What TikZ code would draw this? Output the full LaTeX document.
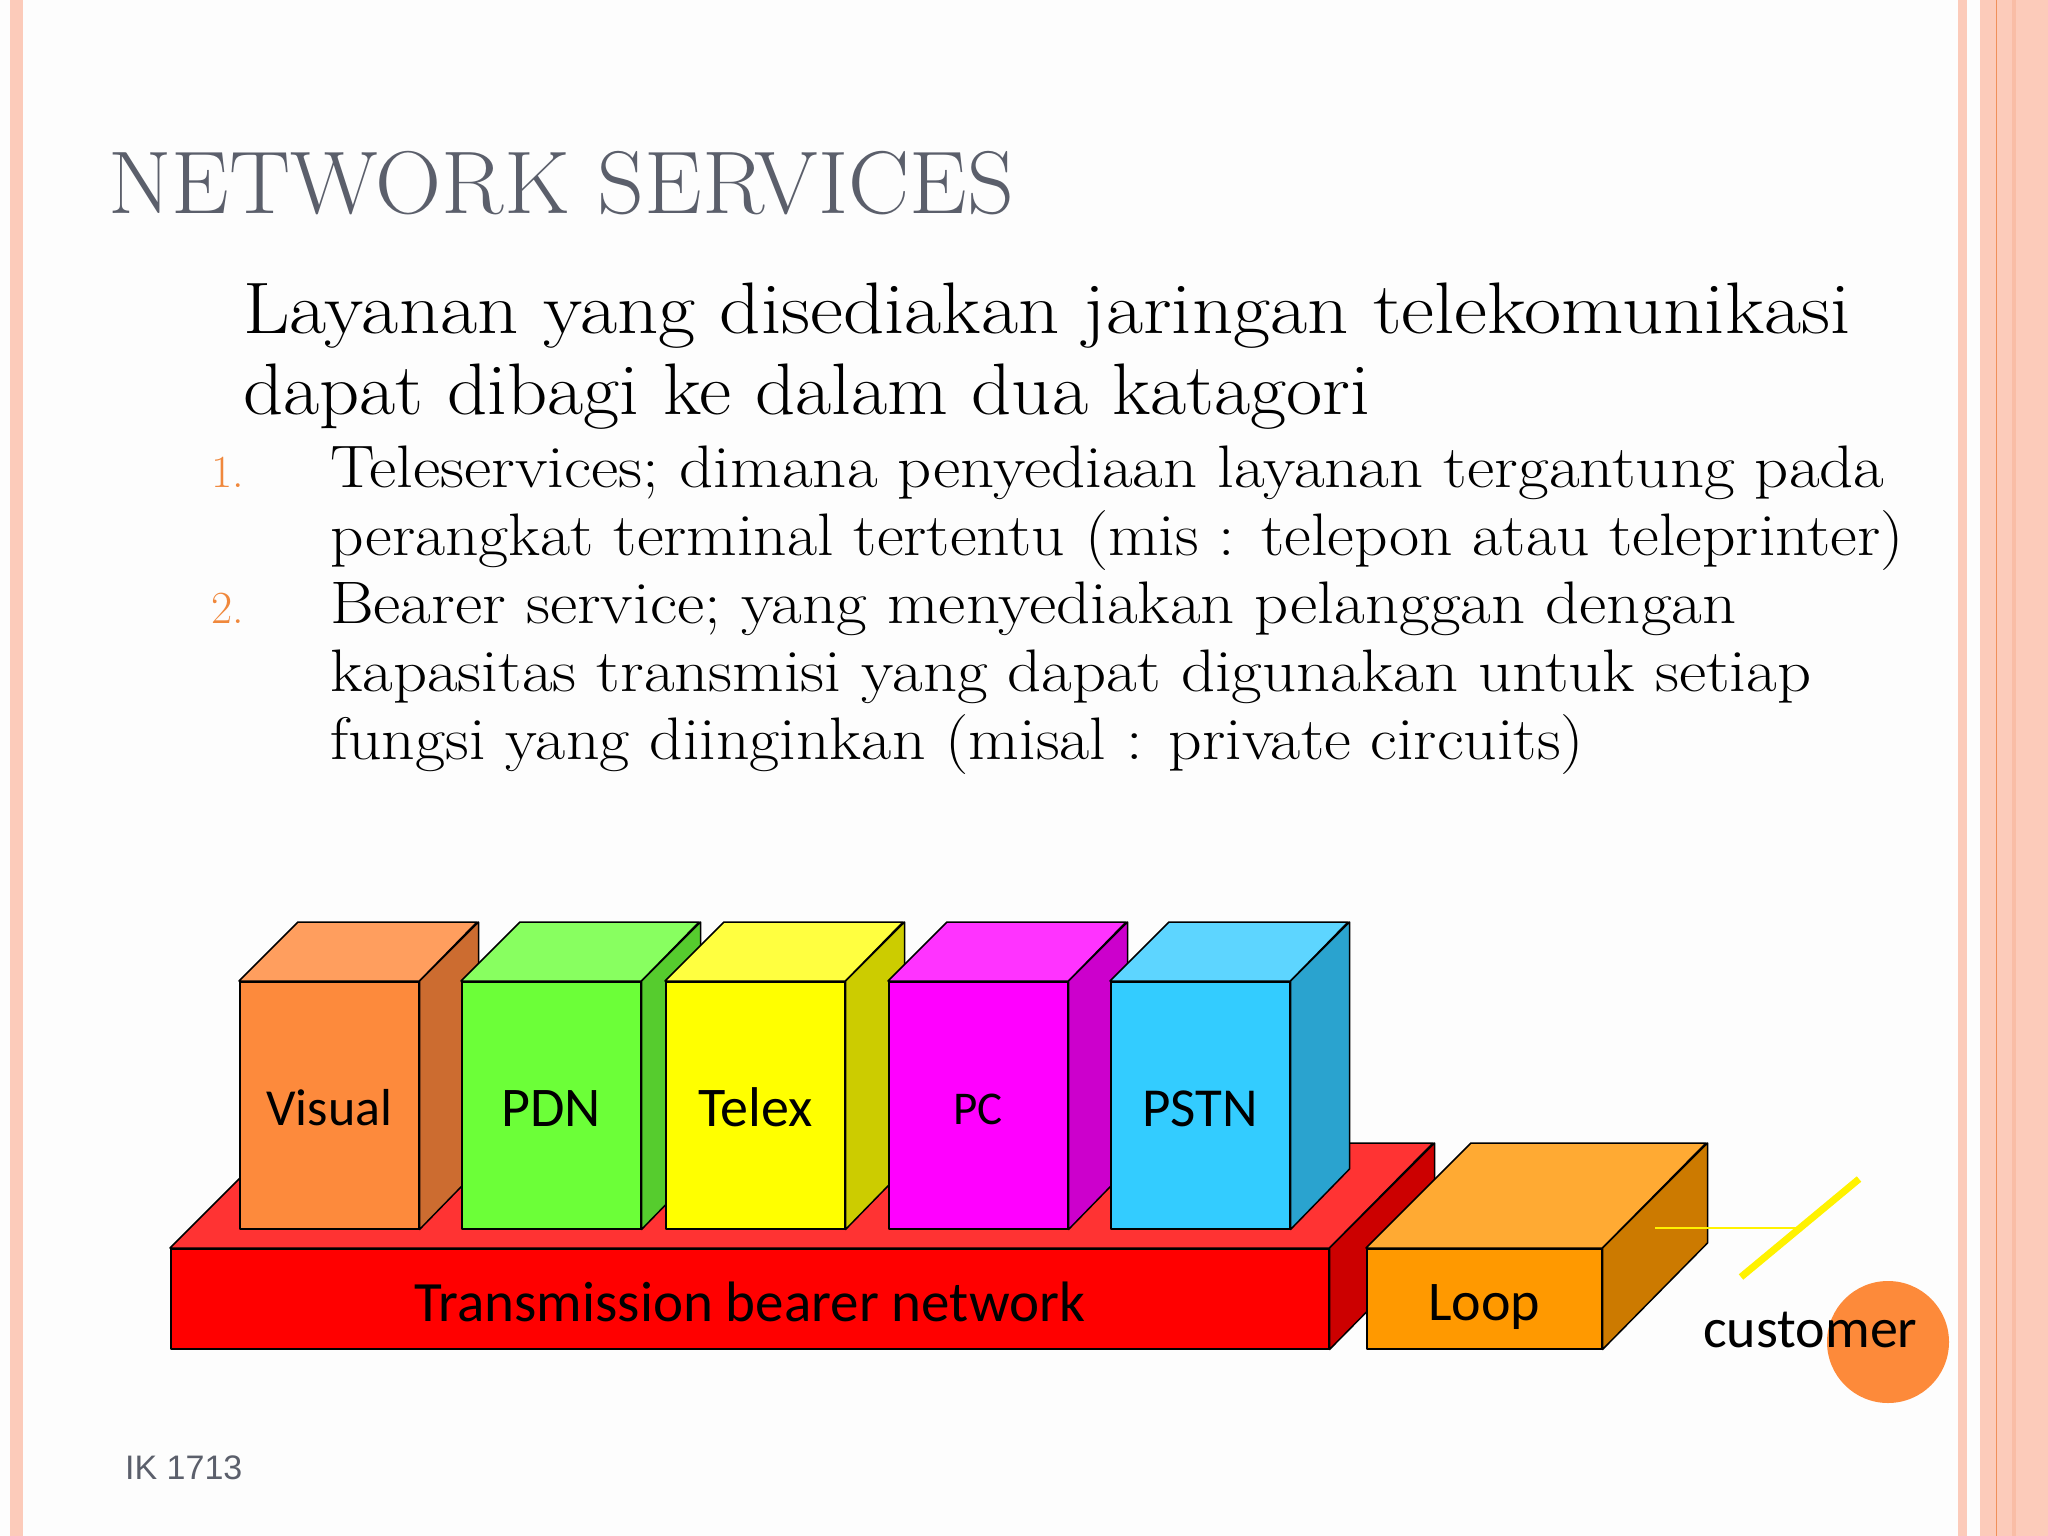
\documentclass[tikz,border=0pt]{standalone}
\usepackage{fontspec}
\newfontfamily\boxfont{Carlito}
\newfontfamily\footfont{Liberation Sans}
\definecolor{bgwhite}{HTML}{FDFDFD}
\definecolor{stripe}{HTML}{FCCBBA}
\definecolor{stripedark}{HTML}{F9BDA6}
\definecolor{stripeline}{HTML}{F0905A}
\definecolor{titlegray}{HTML}{5B5F6B}
\definecolor{numorange}{HTML}{F0883C}
\definecolor{visfront}{HTML}{FD8A3C}
\definecolor{vistop}{HTML}{FF9E5E}
\definecolor{visside}{HTML}{CC6C30}
\definecolor{pdnfront}{HTML}{6CFF38}
\definecolor{pdntop}{HTML}{88FF60}
\definecolor{pdnside}{HTML}{56CC2E}
\definecolor{telfront}{HTML}{FFFF00}
\definecolor{teltop}{HTML}{FFFF40}
\definecolor{telside}{HTML}{CCCC00}
\definecolor{pcfront}{HTML}{FF00FF}
\definecolor{pctop}{HTML}{FF33FF}
\definecolor{pcside}{HTML}{CC00CC}
\definecolor{pstnfront}{HTML}{33CCFF}
\definecolor{pstntop}{HTML}{5DD5FF}
\definecolor{pstnside}{HTML}{2AA3CF}
\definecolor{redfront}{HTML}{FF0000}
\definecolor{redtop}{HTML}{FF3333}
\definecolor{redside}{HTML}{CC0000}
\definecolor{loopfront}{HTML}{FF9900}
\definecolor{looptop}{HTML}{FFAA33}
\definecolor{loopside}{HTML}{CC7A00}
\definecolor{custorange}{HTML}{FD8A3A}
\newcommand{\widetext}[2]{\scalebox{#1}[1]{#2}}
\begin{document}
\begin{tikzpicture}[x=1pt,y=-1pt,line join=round,
  face/.style={draw=black,line width=1.5pt},
  stackbox/.style={face,minimum width=179pt,minimum height=247pt,inner sep=0pt,anchor=north west},
  flatbox/.style={face,minimum height=100pt,inner sep=0pt,anchor=north west},
  boxlabel/.style={anchor=base,inner sep=0pt,font=\boxfont\fontsize{53}{53}\selectfont},
  introline/.style={anchor=base west,inner sep=0pt,font=\fontsize{73}{78}\selectfont},
  itemline/.style={anchor=base west,inner sep=0pt,font=\fontsize{60}{68}\selectfont},
  itemnum/.style={anchor=base west,inner sep=0pt,text=numorange,font=\fontsize{46}{46}\selectfont}]
\useasboundingbox (0,0) rectangle (2048,1536);
\fill[bgwhite] (0,0) rectangle (2048,1536);
% borders
\fill[stripe] (10,0) rectangle (23,1536);
\fill[stripe] (1958,0) rectangle (1967,1536);
\fill[stripe] (1980,0) rectangle (2048,1536);
\fill[stripedark] (2012,0) rectangle (2016,1536);
\draw[stripeline,line width=1.5pt] (1996.5,0) -- (1996.5,1536);
% title
\node[anchor=base west,inner sep=0pt,text=titlegray,font=\fontsize{89}{89}\selectfont] (title) at (108,213) {\widetext{1.03}{NETWORK SERVICES}};
% intro
\node[introline] (intro1) at (243,333) {\widetext{1.107}{Layanan yang disediakan jaringan telekomunikasi}};
\node[introline] (intro2) at (243,414) {\widetext{1.078}{dapat dibagi ke dalam dua katagori}};
% items
\node[itemnum] (n1) at (211,487) {1.};
\node[itemline] (i1a) at (330,487) {\widetext{1.114}{Teleservices; dimana penyediaan layanan tergantung pada}};
\node[itemline] (i1b) at (330,555) {\widetext{1.093}{perangkat terminal tertentu (mis : telepon atau teleprinter)}};
\node[itemnum] (n2) at (211,623) {2.};
\node[itemline] (i2a) at (330,623) {\widetext{1.113}{Bearer service; yang menyediakan pelanggan dengan}};
\node[itemline] (i2b) at (330,691) {\widetext{1.112}{kapasitas transmisi yang dapat digunakan untuk setiap}};
\node[itemline] (i2c) at (330,759) {\widetext{1.096}{fungsi yang diinginkan (misal : private circuits)}};
% base network
\node[flatbox,fill=redfront,minimum width=1158pt] (base) at (170,1248) {};
\draw[face,fill=redtop] (base.north west) -- ++(105,-105) -- ++(1158,0) -- (base.north east) -- cycle;
\draw[face,fill=redside] (base.north east) -- ++(105,-105) -- ++(0,100) -- (base.south east) -- cycle;
\node[boxlabel,font=\boxfont\fontsize{57}{57}\selectfont] (basel) at ([yshift=-23pt]base.center) {Transmission bearer network};
% loop
\node[flatbox,fill=loopfront,minimum width=235pt] (loop) at (1366,1248) {};
\draw[face,fill=looptop] (loop.north west) -- ++(105,-105) -- ++(235,0) -- (loop.north east) -- cycle;
\draw[face,fill=loopside] (loop.north east) -- ++(105,-105) -- ++(0,100) -- (loop.south east) -- cycle;
\node[boxlabel,font=\boxfont\fontsize{56}{56}\selectfont] (loopl) at ([yshift=-22pt]loop.center) {Loop};
% service boxes
\foreach \nm/\x/\c in {vis/239/vis, pdn/461/pdn, tel/665/tel, pc/888/pc, pstn/1110/pstn}{
  \node[stackbox,fill=\c front] (\nm) at (\x,981) {};
  \draw[face,fill=\c top] (\nm.north west) -- ++(59,-59) -- ++(179,0) -- (\nm.north east) -- cycle;
  \draw[face,fill=\c side] (\nm.north east) -- ++(59,-59) -- ++(0,247) -- (\nm.south east) -- cycle;
}
\node[boxlabel,font=\boxfont\fontsize{52}{52}\selectfont] (visl) at ([yshift=-20pt]vis.center) {Visual};
\node[boxlabel,font=\boxfont\fontsize{56}{56}\selectfont] (pdnl) at ([yshift=-21pt]pdn.center) {PDN};
\node[boxlabel,font=\boxfont\fontsize{56}{56}\selectfont] (tell) at ([yshift=-21pt]tel.center) {Telex};
\node[boxlabel,font=\boxfont\fontsize{47}{47}\selectfont] (pcl) at ([yshift=-19pt]pc.center) {PC};
\node[boxlabel,font=\boxfont\fontsize{55}{55}\selectfont] (pstnl) at ([yshift=-21pt]pstn.center) {PSTN};
% customer link
\coordinate (yh1) at (1655,1228);
\coordinate (yh2) at (1804,1228);
\coordinate (ys1) at (1859,1179);
\coordinate (ys2) at (1741,1277);
\draw[yellow,line width=2pt] (yh1) -- (yh2);
\draw[yellow,line width=7pt] (ys1) -- (ys2);
\node[circle,fill=custorange,minimum size=122pt,inner sep=0pt] (cust) at (1888,1342) {};
\node[anchor=base west,inner sep=0pt,font=\boxfont\fontsize{56}{56}\selectfont] (custl) at (1703,1347) {customer};
% footer
\node[anchor=base west,inner sep=0pt,text=titlegray,font=\footfont\fontsize{34}{34}\selectfont] (foot) at (125,1479) {IK 1713};
\end{tikzpicture}
\end{document}
